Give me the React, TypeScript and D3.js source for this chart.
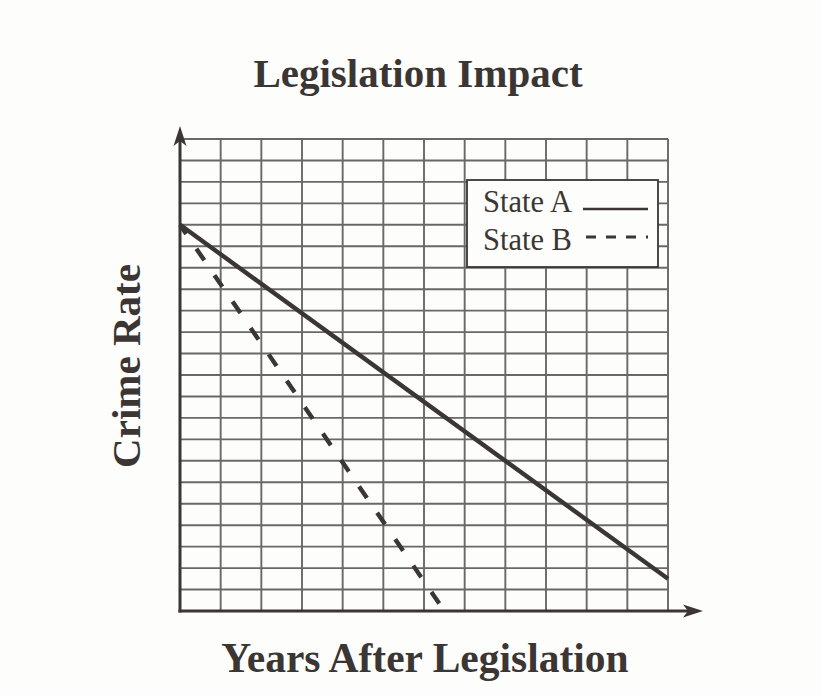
import React from "react";
import * as d3 from "d3";

const title = "Legislation Impact";
const xLabel = "Years After Legislation";
const yLabel = "Crime Rate";

const seriesNames = ["State A", "State B"];
const stateAYears = [0, 12];
const stateARates = [18, 1.5];
const stateBYears = [0, 6.5];
const stateBRates = [18, 0];

const xMax = 12;
const yMax = 22;

const W = 822;
const H = 695;
const left = 180;
const right = 668;
const top = 139;
const bottom = 611;

const ink = "#3b3633";
const gridCol = "#686868";

export default function App() {
  const x = d3.scaleLinear().domain([0, xMax]).range([left, right]);
  const y = d3.scaleLinear().domain([0, yMax]).range([bottom, top]);
  const line = d3
    .line<[number, number]>()
    .x((d) => x(d[0]))
    .y((d) => y(d[1]));
  const dataA: [number, number][] = stateAYears.map((v, i) => [v, stateARates[i]]);
  const dataB: [number, number][] = stateBYears.map((v, i) => [v, stateBRates[i]]);

  const xTicks = d3.range(0, xMax + 1);
  const yTicks = d3.range(0, yMax + 1);

  const font = "'Liberation Serif', 'Times New Roman', serif";

  return (
    <svg
      width={W}
      height={H}
      style={{ position: "absolute", left: 0, top: 0, background: "#fdfdfb" }}
    >
      <rect x={0} y={0} width={W} height={H} fill="#fdfdfb" />
      {/* grid */}
      <g stroke={gridCol} strokeWidth={1.9}>
        {xTicks.map((t) => (
          <line key={"vx" + t} x1={x(t)} x2={x(t)} y1={y(yMax)} y2={y(0)} />
        ))}
        {yTicks.map((t) => (
          <line key={"hy" + t} x1={x(0)} x2={x(xMax)} y1={y(t)} y2={y(t)} />
        ))}
      </g>
      {/* axes */}
      <g stroke={ink} strokeWidth={3}>
        <line x1={x(0)} x2={x(0)} y1={y(0) + 1.5} y2={132} />
        <line x1={x(0) - 1.5} x2={697} y1={y(0)} y2={y(0)} />
      </g>
      <path
        d={`M${x(0)},${126} L${x(0) - 6.5},${146} L${x(0)},${141} L${x(0) + 6.5},${146} Z`}
        fill={ink}
      />
      <path
        d={`M${703},${y(0)} L${683},${y(0) - 6.5} L${688},${y(0)} L${683},${y(0) + 6.5} Z`}
        fill={ink}
      />
      {/* series */}
      <path d={line(dataB) || ""} fill="none" stroke={ink} strokeWidth={4.4} strokeDasharray="14 18" strokeDashoffset={3} />
      <path d={line(dataA) || ""} fill="none" stroke={ink} strokeWidth={4.4} />
      {/* legend */}
      <rect x={467} y={180} width={191} height={87} fill="#fdfdfb" stroke={ink} strokeWidth={1.8} />
      <text x={483} y={212} fontFamily={font} fontSize={30.5} fill={ink}>
        {seriesNames[0]}
      </text>
      <text x={483} y={250} fontFamily={font} fontSize={30.5} fill={ink}>
        {seriesNames[1]}
      </text>
      <line x1={583} x2={648} y1={209} y2={209} stroke={ink} strokeWidth={2.5} />
      <line x1={586} x2={648} y1={237} y2={237} stroke={ink} strokeWidth={3} strokeDasharray="10 10" />
      {/* titles */}
      <text x={418} y={87} textAnchor="middle" fontFamily={font} fontWeight="bold" fontSize={41} fill={ink}>
        {title}
      </text>
      <text x={425} y={672} textAnchor="middle" fontFamily={font} fontWeight="bold" fontSize={41.5} fill={ink}>
        {xLabel}
      </text>
      <text
        transform={`translate(140,366) rotate(-90)`}
        textAnchor="middle"
        fontFamily={font}
        fontWeight="bold"
        fontSize={41}
        fill={ink}
      >
        {yLabel}
      </text>
    </svg>
  );
}
